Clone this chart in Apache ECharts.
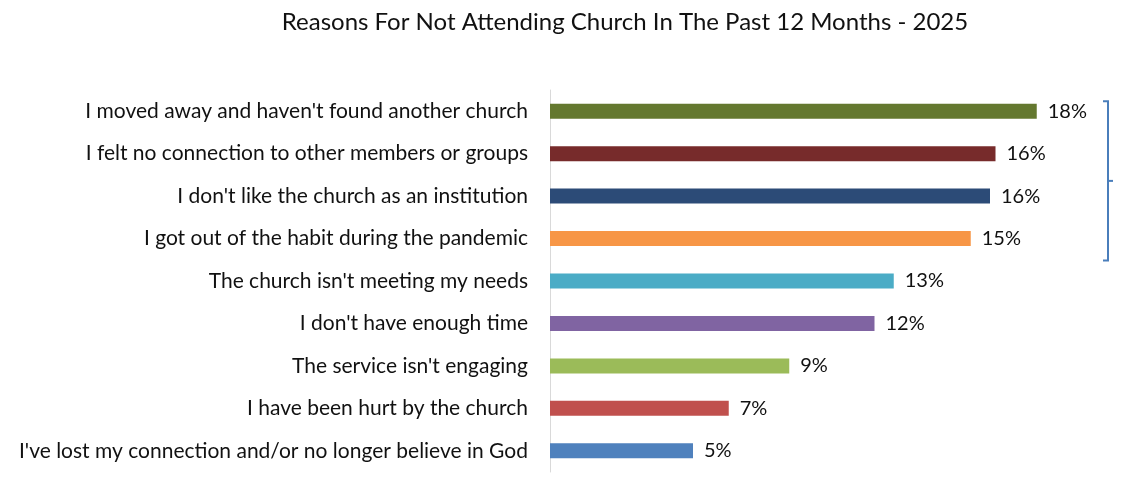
<!DOCTYPE html>
<html>
<head>
<meta charset="utf-8">
<script src="https://cdn.jsdelivr.net/npm/echarts@6/dist/echarts.min.js"></script>
<style>
  html, body { margin: 0; padding: 0; background: #fff; }
  #chart { width: 1125px; height: 482px; }
</style>
</head>
<body>
<div id="chart"></div>
<script>
var categories = [
  "I moved away and haven't found another church",
  "I felt no connection to other members or groups",
  "I don't like the church as an institution",
  "I got out of the habit during the pandemic",
  "The church isn't meeting my needs",
  "I don't have enough time",
  "The service isn't engaging",
  "I have been hurt by the church",
  "I've lost my connection and/or no longer believe in God"
];
var values = [17.7, 16.2, 16.0, 15.3, 12.5, 11.8, 8.7, 6.5, 5.2];
var valueLabels = ["18%", "16%", "16%", "15%", "13%", "12%", "9%", "7%", "5%"];
var barColors = ["#64782F", "#772B2B", "#2C4B77", "#F79646", "#4BACC6", "#8064A2", "#9BBB59", "#C0504D", "#4F81BD"];

var font = "Lato, 'Open Sans', sans-serif";
var myChart = echarts.init(document.getElementById('chart'));

var option = {
  animation: false,
  title: {
    text: 'Reasons For Not Attending Church In The Past 12 Months - 2025',
    left: 620,
    textAlign: 'center',
    top: 5,
    textStyle: { fontFamily: font, fontSize: 24, fontWeight: 'normal', color: '#111' }
  },
  grid: { left: 550, width: 550, top: 90, height: 382 },
  xAxis: {
    type: 'value',
    min: 0,
    max: 20,
    show: false
  },
  yAxis: {
    type: 'category',
    inverse: true,
    data: categories,
    axisLine: { show: true, lineStyle: { color: '#D9D9D9', width: 1 } },
    axisTick: { show: false },
    axisLabel: { margin: 22, fontFamily: font, fontSize: 21, color: '#111' }
  },
  series: [{
    type: 'bar',
    barWidth: 15,
    data: values.map(function (v, i) {
      return { value: v, itemStyle: { color: barColors[i] } };
    }),
    label: {
      show: true,
      position: 'right',
      distance: 11,
      fontFamily: font,
      fontSize: 20,
      color: '#111',
      formatter: function (p) { return valueLabels[p.dataIndex]; }
    }
  }]
};
myChart.setOption(option);

// bracket grouping the top four reasons
var bTop = myChart.convertToPixel({ yAxisIndex: 0 }, 0) - 10;
var bBottom = myChart.convertToPixel({ yAxisIndex: 0 }, 3) + 22;
var bx = 1108;
var bMid = (bTop + bBottom) / 2;
myChart.setOption({
  graphic: [{
    type: 'polyline',
    shape: { points: [[bx - 5, bTop], [bx, bTop], [bx, bBottom], [bx - 5, bBottom]] },
    style: { stroke: '#4A7EBB', lineWidth: 2, fill: null }
  }, {
    type: 'line',
    shape: { x1: bx, y1: bMid, x2: bx + 5, y2: bMid },
    style: { stroke: '#4A7EBB', lineWidth: 2 }
  }]
});
</script>
</body>
</html>
